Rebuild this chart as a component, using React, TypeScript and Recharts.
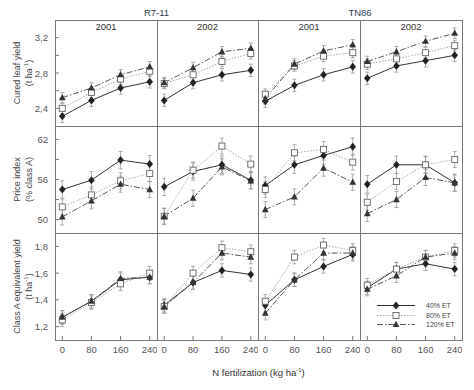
import React from 'react';
import { LineChart, Line, XAxis, YAxis, ErrorBar, Legend } from 'recharts';

const rates = [0, 80, 160, 240];
const treatments = ['40% ET', '80% ET', '120% ET'];
const cultivars = ['R7-11', 'TN86'];
const years = ['2001', '2002'];

// each panel: [40% ET, 80% ET, 120% ET] at 0/80/160/240 kg N
const curedR711_2001 = [[2.31, 2.49, 2.63, 2.7], [2.4, 2.58, 2.73, 2.82], [2.52, 2.63, 2.78, 2.87]];
const curedR711_2002 = [[2.49, 2.69, 2.78, 2.83], [2.68, 2.78, 2.93, 3.02], [2.69, 2.86, 3.04, 3.08]];
const curedTN86_2001 = [[2.48, 2.66, 2.78, 2.87], [2.56, 2.88, 2.99, 3.03], [2.51, 2.9, 3.05, 3.12]];
const curedTN86_2002 = [[2.74, 2.88, 2.94, 3.0], [2.9, 2.96, 3.03, 3.11], [2.93, 3.04, 3.16, 3.25]];

const priceR711_2001 = [[54.5, 55.9, 58.9, 58.3], [51.9, 53.7, 55.8, 56.9], [50.4, 52.8, 55.3, 54.5]];
const priceR711_2002 = [[54.9, 57.2, 58.2, 55.9], [50.5, 57.4, 61.0, 58.3], [50.5, 53.2, 57.9, 55.8]];
const priceTN86_2001 = [[55.1, 58.2, 59.6, 60.9], [54.5, 60.0, 60.5, 58.6], [51.5, 53.4, 57.7, 55.6]];
const priceTN86_2002 = [[55.3, 58.2, 58.2, 55.5], [52.6, 55.7, 58.2, 59.0], [50.9, 53.0, 56.3, 55.5]];

const classAR711_2001 = [[1.27, 1.39, 1.55, 1.57], [1.25, 1.38, 1.52, 1.6], [1.27, 1.39, 1.56, 1.57]];
const classAR711_2002 = [[1.36, 1.53, 1.62, 1.59], [1.35, 1.6, 1.79, 1.76], [1.35, 1.53, 1.75, 1.72]];
const classATN86_2001 = [[1.36, 1.55, 1.65, 1.74], [1.39, 1.72, 1.81, 1.77], [1.3, 1.55, 1.75, 1.75]];
const classATN86_2002 = [[1.49, 1.63, 1.67, 1.63], [1.51, 1.63, 1.72, 1.77], [1.48, 1.58, 1.72, 1.75]];

// approximate error bar half-lengths per treatment
const curedErr = [0.07, 0.06, 0.06];
const priceErr = [1.3, 1.2, 1.2];
const classAErr = [0.05, 0.05, 0.05];

const curedTicks = [2.4, 2.6, 2.8, 3.0, 3.2];
const curedLabels = [2.4, 2.8, 3.2];
const priceTicks = [50, 53, 56, 59, 62];
const priceLabels = [50, 56, 62];
const classATicks = [1.2, 1.4, 1.6, 1.8];
const classALabels = [1.2, 1.4, 1.6, 1.8];

const rows = [
  { title: 'Cured leaf yield', unit: '(t ha', sup: '-1', domain: [2.2, 3.4], ticks: curedTicks, labels: curedLabels, err: curedErr, dec: true,
    panels: [curedR711_2001, curedR711_2002, curedTN86_2001, curedTN86_2002] },
  { title: 'Price index', unit: '(% class A)', sup: '', domain: [48, 64], ticks: priceTicks, labels: priceLabels, err: priceErr, dec: false,
    panels: [priceR711_2001, priceR711_2002, priceTN86_2001, priceTN86_2002] },
  { title: 'Class A equivalent yield', unit: '(t ha', sup: '-1', domain: [1.1, 1.9], ticks: classATicks, labels: classALabels, err: classAErr, dec: true,
    panels: [classAR711_2001, classAR711_2002, classATN86_2001, classATN86_2002] },
];

const colEdges = [55, 157, 258, 360, 462];
const rowEdges = [20, 126, 233, 340];
const FONT = '"Liberation Sans", Arial, sans-serif';
const AXIS = '#777';
const TICK_TEXT = '#555';

const styles = [
  { stroke: '#333', dash: undefined as string | undefined },
  { stroke: '#aaa', dash: '1.5 1.5' },
  { stroke: '#555', dash: '6 2 1.5 2' },
];

const marker = (i: number, cx: number, cy: number, key?: string) => {
  if (i === 0)
    return <polygon key={key} points={`${cx},${cy - 4} ${cx + 3.3},${cy} ${cx},${cy + 4} ${cx - 3.3},${cy}`} fill="#222" />;
  if (i === 1)
    return <rect key={key} x={cx - 3} y={cy - 3} width={6} height={6} fill="#fff" stroke="#666" strokeWidth={0.9} />;
  return <polygon key={key} points={`${cx},${cy - 3.8} ${cx + 3.4},${cy + 2.6} ${cx - 3.4},${cy + 2.6}`} fill="#333" />;
};

const renderLegend = () => (
  <div style={{ fontSize: 7, color: '#444', fontFamily: FONT }}>
    {treatments.map((t, i) => (
      <div key={t} style={{ display: 'flex', alignItems: 'center', height: 9.5 }}>
        <svg width={40} height={9}>
          <line x1={0} x2={38} y1={4.5} y2={4.5} stroke={styles[i].stroke} strokeDasharray={styles[i].dash} />
          {marker(i, 19, 4.5)}
        </svg>
        <span style={{ marginLeft: 9 }}>{t}</span>
      </div>
    ))}
  </div>
);

function Panel({ r, c }: { r: number; c: number }) {
  const row = rows[r];
  const vals = row.panels[c];
  const pw = colEdges[c + 1] - colEdges[c];
  const ph = rowEdges[r + 1] - rowEdges[r];
  const showY = c === 0;
  const showX = r === rows.length - 1;
  const yW = showY ? 55 : 0;
  const xH = showX ? 22 : 0;
  const data = rates.map((n, i) => ({
    n, a: vals[0][i], b: vals[1][i], c: vals[2][i],
    ea: row.err[0], eb: row.err[1], ec: row.err[2],
  }));
  const fmt = (v: number) =>
    row.labels.some((l) => Math.abs(l - v) < 1e-6) ? (row.dec ? v.toFixed(1).replace('.', ',') : String(v)) : '';

  // inward tick marks plus (optional) labels
  const yTick = (p: any) => (
    <g>
      <line x1={p.x + 7} x2={p.x + 11} y1={p.y} y2={p.y} stroke={AXIS} />
      {showY ? (
        <text x={p.x} y={p.y} textAnchor="end" dominantBaseline="central" fontSize={9.5} fill={TICK_TEXT} fontFamily={FONT}>
          {fmt(p.payload.value)}
        </text>
      ) : null}
    </g>
  );
  const xTickBottom = (p: any) => (
    <g>
      <line x1={p.x} x2={p.x} y1={p.y - 4} y2={p.y} stroke={AXIS} />
      {showX ? (
        <text x={p.x} y={p.y + 13} textAnchor="middle" fontSize={9.5} fill={TICK_TEXT} fontFamily={FONT}>
          {p.payload.value}
        </text>
      ) : null}
    </g>
  );
  const xTickTop = (p: any) => <line x1={p.x} x2={p.x} y1={p.y} y2={p.y + 4} stroke={AXIS} />;

  const keys = ['a', 'b', 'c'];
  const errKeys = ['ea', 'eb', 'ec'];
  return (
    <div style={{ position: 'absolute', left: colEdges[c] - yW, top: rowEdges[r] }}>
      <LineChart width={pw + yW} height={ph + xH} data={data} margin={{ top: 0, right: 0, bottom: 0, left: 0 }}>
        <XAxis xAxisId="b" dataKey="n" type="number" domain={[-20, 260]} ticks={rates} interval={0} allowDataOverflow
          height={xH} tickSize={0} tickMargin={0} axisLine={false} tickLine={false} tick={xTickBottom} />
        <XAxis xAxisId="t" orientation="top" type="number" domain={[-20, 260]} ticks={rates} interval={0} allowDataOverflow
          height={0} tickSize={0} tickMargin={0} axisLine={false} tickLine={false} tick={xTickTop} />
        <YAxis yAxisId="l" type="number" domain={row.domain} ticks={row.ticks} interval={0} allowDataOverflow
          width={yW} tickSize={0} tickMargin={7} axisLine={false} tickLine={false} tick={yTick} />
        {keys.map((k, i) => (
          <Line key={k} xAxisId="b" yAxisId="l" dataKey={k} name={treatments[i]} isAnimationActive={false}
            stroke={styles[i].stroke} strokeWidth={1} strokeDasharray={styles[i].dash}
            dot={(p: any) => marker(i, p.cx, p.cy, `${k}-${p.index}`)} activeDot={false}>
            <ErrorBar dataKey={errKeys[i]} direction="y" width={2} stroke="#999" strokeWidth={0.8} />
          </Line>
        ))}
        {r === 2 && c === 3 ? (
          <Legend layout="vertical" align="center" verticalAlign="middle" content={renderLegend}
            wrapperStyle={{ left: 17, top: 68, width: 90, height: 30 }} />
        ) : null}
      </LineChart>
    </div>
  );
}

export default function App() {
  const textStyle: React.CSSProperties = { position: 'absolute', fontSize: 9.5, fontFamily: FONT, textAlign: 'center', whiteSpace: 'nowrap' };
  return (
    <div style={{ position: 'absolute', left: 0, top: 0, width: 474, height: 390, background: '#fff', fontFamily: FONT }}>
      {cultivars.map((cv, i) => (
        <div key={cv} style={{ ...textStyle, left: colEdges[i * 2], width: colEdges[i * 2 + 2] - colEdges[i * 2], top: 7, color: '#2f3a55' }}>{cv}</div>
      ))}
      {colEdges.slice(0, 4).map((x, i) => (
        <div key={i} style={{ ...textStyle, left: x, width: colEdges[i + 1] - x, top: 21, color: '#333' }}>{years[i % 2]}</div>
      ))}
      <svg style={{ position: 'absolute', left: 0, top: 0 }} width={55} height={390}>
        {rows.map((row, r) => {
          const cy = (rowEdges[r] + rowEdges[r + 1]) / 2;
          return (
            <g key={row.title} fill="#444" fontSize={9} fontFamily={FONT}>
              <text x={17} y={cy} textAnchor="middle" dominantBaseline="central" transform={`rotate(-90, 17, ${cy})`}>{row.title}</text>
              <text x={29} y={cy} textAnchor="middle" dominantBaseline="central" transform={`rotate(-90, 29, ${cy})`}>
                {row.unit}
                {row.sup ? <tspan fontSize={6} dy={-3.5}>{row.sup}</tspan> : null}
                {row.sup ? <tspan dy={3.5}>)</tspan> : null}
              </text>
            </g>
          );
        })}
      </svg>
      {rows.map((_, r) => colEdges.slice(0, 4).map((_, c) => <Panel key={`${r}-${c}`} r={r} c={c} />))}
      {rows.map((_, r) => colEdges.slice(0, 4).map((x, c) => (
        <div key={`f${r}-${c}`} style={{
          position: 'absolute', left: x, top: rowEdges[r], width: colEdges[c + 1] - x + 1, height: rowEdges[r + 1] - rowEdges[r] + 1,
          border: `1px solid ${AXIS}`, boxSizing: 'border-box', pointerEvents: 'none',
        }} />
      )))}
      <div style={{ ...textStyle, left: 55, width: 407, top: 367, color: '#333' }}>
        N fertilization (kg ha<sup style={{ fontSize: 6 }}>-1</sup>)
      </div>
    </div>
  );
}
